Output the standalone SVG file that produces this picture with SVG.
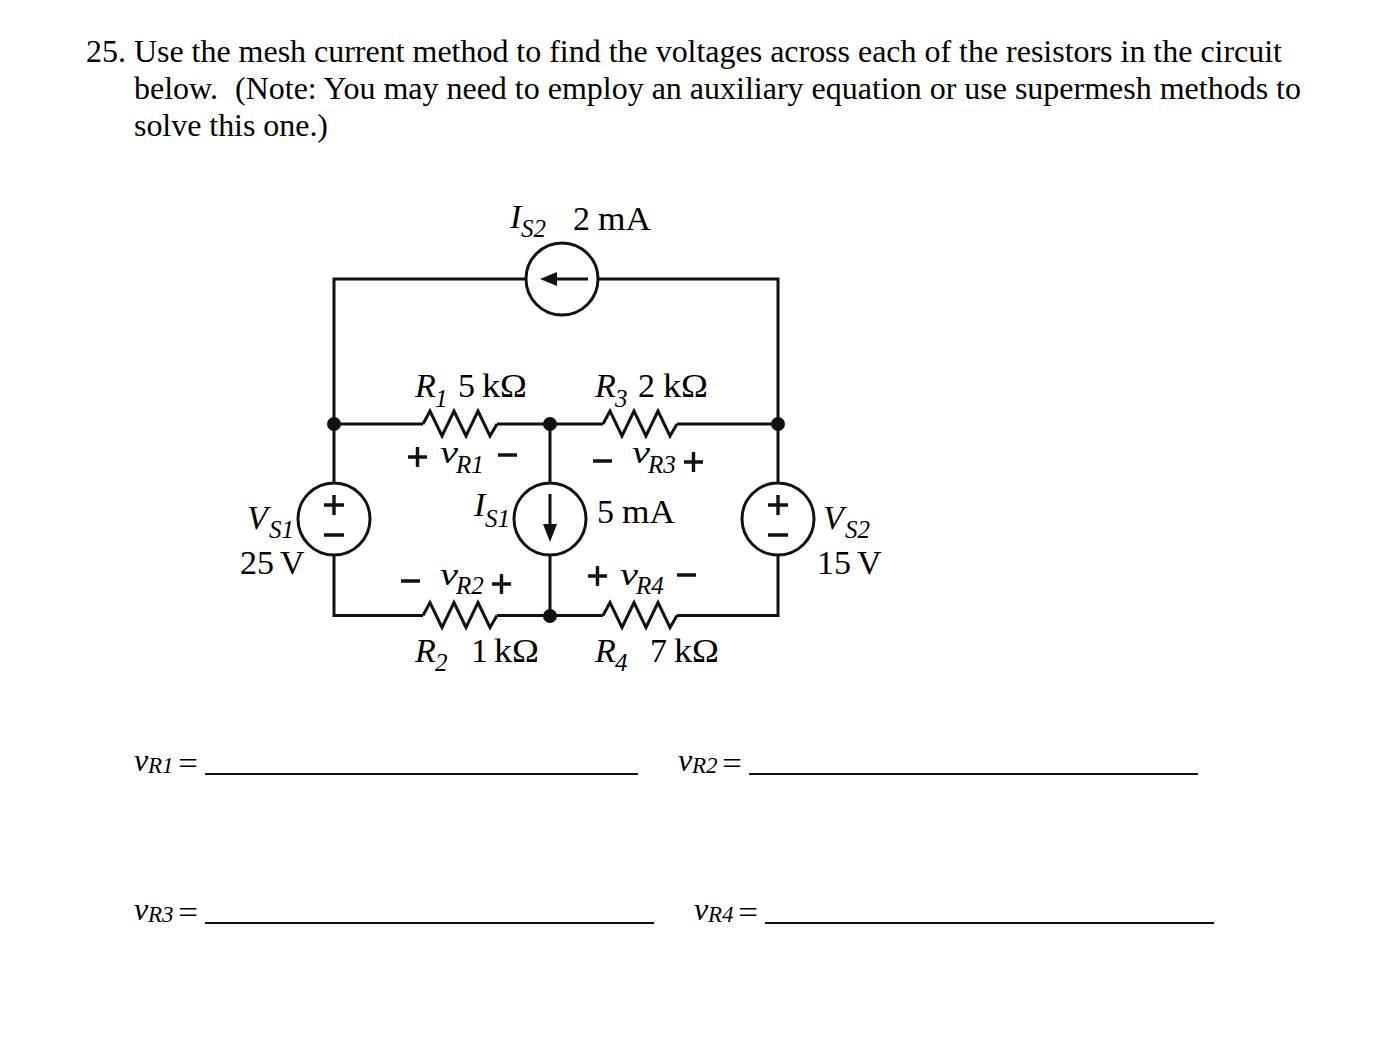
<svg xmlns="http://www.w3.org/2000/svg" width="1384" height="1038" viewBox="0 0 1384 1038">
<style>
text{font-family:"Liberation Serif","Times New Roman",serif;font-size:32px;fill:#000}
.n{font-size:34px}
.i{font-style:italic}
.R{font-size:34px;font-style:italic}
.s{font-size:25px;font-style:italic}
.v{font-size:32px;font-style:italic}
.a{font-size:32px;font-style:italic}
.e{font-size:32px}
.q{font-size:23px;font-style:italic}
.w{fill:none;stroke:#111;stroke-width:3;stroke-linejoin:miter}
.c{fill:#fff;stroke:#111;stroke-width:3}
.d{fill:#111}
.p{fill:none;stroke:#111;stroke-width:3.4}
.u{stroke:#111;stroke-width:2}
</style>
<defs>
<path id="zig" d="M0 0L7 -13L19 12L31 -13L43 12L55 -13L67 12L74 0"/>
</defs>
<g id="question">
<text x="86" y="62" textLength="1196">25. Use the mesh current method to find the voltages across each of the resistors in the circuit</text>
<text x="134" y="99" textLength="84">below.</text>
<text x="235" y="99" textLength="1066">(Note: You may need to employ an auxiliary equation or use supermesh methods to</text>
<text x="134" y="136" textLength="194">solve this one.)</text>
</g>
<g id="connectors">
<path class="w" d="M526 279H334V615.500H423"/>
<path class="w" d="M598 279H778V615.500H677"/>
<path class="w" d="M334 424H423M497 424H603M677 424H778"/>
<path class="w" d="M497 615.500H603M550 424V615"/>
</g>
<g id="R1"><use href="#zig" class="w" x="423" y="424"/><text class="R" x="415" y="397">R</text><text class="s" x="435" y="407">1</text><text class="n" x="458" y="397">5</text><text class="n" x="482" y="397" textLength="45" lengthAdjust="spacingAndGlyphs">kΩ</text></g>
<g id="R3"><use href="#zig" class="w" x="603" y="424"/><text class="R" x="595" y="397">R</text><text class="s" x="615" y="407">3</text><text class="n" x="638" y="397">2</text><text class="n" x="663" y="397" textLength="45" lengthAdjust="spacingAndGlyphs">kΩ</text></g>
<g id="R2"><use href="#zig" class="w" x="423" y="615.500"/><text class="R" x="415" y="662">R</text><text class="s" x="435" y="671">2</text><text class="n" x="471" y="662">1</text><text class="n" x="494" y="662" textLength="45" lengthAdjust="spacingAndGlyphs">kΩ</text></g>
<g id="R4"><use href="#zig" class="w" x="603" y="615.500"/><text class="R" x="595" y="662">R</text><text class="s" x="615" y="671">4</text><text class="n" x="650" y="662">7</text><text class="n" x="674" y="662" textLength="45" lengthAdjust="spacingAndGlyphs">kΩ</text></g>
<g id="IS2"><circle class="c" cx="562" cy="279" r="36"/><path class="w" d="M588 279H552"/><path class="d" d="M540 279L557 272V286Z"/>
<text class="R" x="510" y="228">I</text><text class="s" x="521" y="237">S2</text><text class="n" x="573" y="230">2</text><text class="n" x="598" y="230" textLength="53" lengthAdjust="spacingAndGlyphs">mA</text></g>
<g id="IS1"><circle class="c" cx="550" cy="519" r="36"/><path class="w" d="M550 494V528"/><path class="d" d="M550 542L543 524H557Z"/>
<text class="R" x="474" y="516">I</text><text class="s" x="485" y="527">S1</text><text class="n" x="597" y="523">5</text><text class="n" x="622" y="523" textLength="53" lengthAdjust="spacingAndGlyphs">mA</text></g>
<g id="VS1"><circle class="c" cx="334" cy="519" r="36"/><path class="p" d="M324 505H344M334 495V515M324 535H344"/>
<text class="R" x="247" y="529">V</text><text class="s" x="269" y="538">S1</text><text class="n" x="240" y="574">25</text><text class="n" x="280" y="574">V</text></g>
<g id="VS2"><circle class="c" cx="778" cy="519" r="36"/><path class="p" d="M768 505H788M778 495V515M768 535H788"/>
<text class="R" x="823" y="529">V</text><text class="s" x="845" y="538">S2</text><text class="n" x="817" y="574">15</text><text class="n" x="857" y="574">V</text></g>
<g id="junctions"><circle class="d" cx="334" cy="424" r="7"/><circle class="d" cx="550" cy="424" r="7"/><circle class="d" cx="778" cy="424" r="7"/><circle class="d" cx="550" cy="616" r="7"/></g>
<g id="vR1"><path class="p" d="M408 457H427M417.500 447V467M498 455H517"/><text class="v" x="440" y="463" textLength="18" lengthAdjust="spacingAndGlyphs">v</text><text class="s" x="456" y="473">R1</text></g>
<g id="vR3"><path class="p" d="M593 461H612M684 462H703M693.500 452V472"/><text class="v" x="632" y="463" textLength="18" lengthAdjust="spacingAndGlyphs">v</text><text class="s" x="648" y="473">R3</text></g>
<g id="vR2"><path class="p" d="M401 581H420M492 584H511M501.500 574V594"/><text class="v" x="440" y="585" textLength="18" lengthAdjust="spacingAndGlyphs">v</text><text class="s" x="456" y="594">R2</text></g>
<g id="vR4"><path class="p" d="M588 576H607M597.500 566V586M677 575H696"/><text class="v" x="620" y="585" textLength="18" lengthAdjust="spacingAndGlyphs">v</text><text class="s" x="636" y="594">R4</text></g>
<g id="answers">
<text class="a" x="134" y="771">v</text><text class="q" x="148" y="773">R1</text><text class="e" x="178" y="774" textLength="20" lengthAdjust="spacingAndGlyphs">=</text><line class="u" x1="205" y1="774" x2="638" y2="774"/>
<text class="a" x="678" y="771">v</text><text class="q" x="692" y="773">R2</text><text class="e" x="722" y="774" textLength="20" lengthAdjust="spacingAndGlyphs">=</text><line class="u" x1="749" y1="774" x2="1198" y2="774"/>
<text class="a" x="134" y="920">v</text><text class="q" x="148" y="922">R3</text><text class="e" x="178" y="923" textLength="20" lengthAdjust="spacingAndGlyphs">=</text><line class="u" x1="205" y1="923" x2="654" y2="923"/>
<text class="a" x="694" y="920">v</text><text class="q" x="708" y="922">R4</text><text class="e" x="738" y="923" textLength="20" lengthAdjust="spacingAndGlyphs">=</text><line class="u" x1="765" y1="923" x2="1214" y2="923"/>
</g>
</svg>
